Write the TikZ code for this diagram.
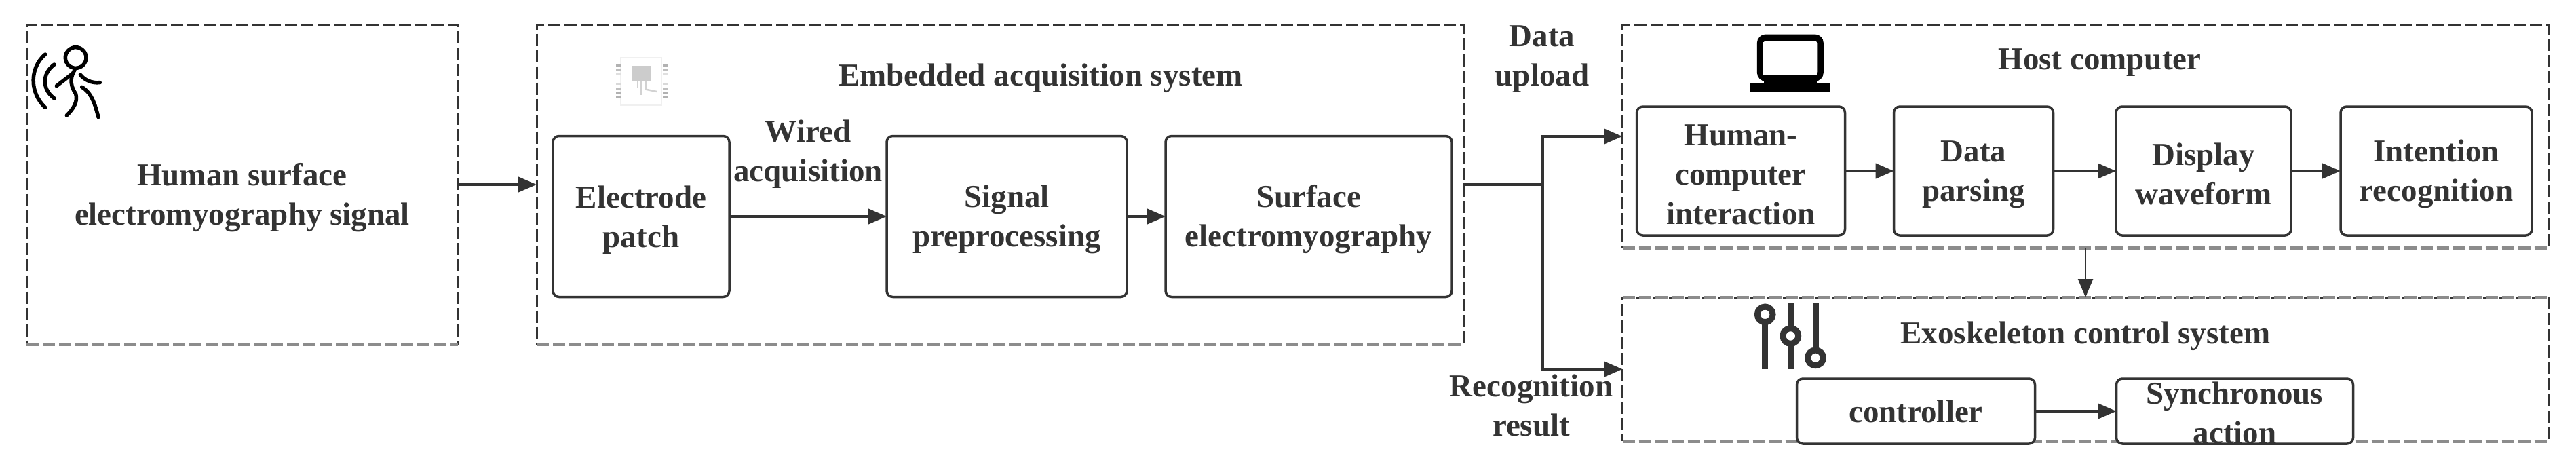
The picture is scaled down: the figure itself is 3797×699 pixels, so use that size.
\documentclass[tikz,border=0pt]{standalone}
\usepackage{fontspec}
\setmainfont{Liberation Serif}
\usetikzlibrary{arrows.meta}
\definecolor{inkgray}{HTML}{333333}
\newcommand{\lowerline}{\rule{0pt}{42pt}}
\tikzset{
    txt/.style={font=\fontsize{47}{58}\selectfont\bfseries,text=inkgray,align=center,inner sep=0pt},
    groupbox/.style={draw=inkgray,line width=3pt,dash pattern=on 18pt off 6pt,outer sep=0pt,inner sep=0pt},
    groupedge/.style={draw=gray!90,line width=5pt,dash pattern=on 18pt off 6pt},
    stepbox/.style={txt,draw=inkgray,line width=3.5pt,rounded corners=9pt,outer sep=0pt},
    link/.style={draw=inkgray,line width=4pt,-{Triangle[length=27pt,width=22pt]}},
    icon/.style={line width=5.5pt,line cap=round,black}
}

\begin{document}
\begin{tikzpicture}[x=1pt,y=-1pt]
        \useasboundingbox (0,0) rectangle (3797,699);
        \fill[white] (0,0) rectangle (3797,699);

        \node[groupbox,minimum width=636pt,minimum height=471pt] (humanbox) at (357,272) {};
        \node[txt] (humanlabel) at (357,291) {Human surface\\electromyography signal};

        \node[groupbox,minimum width=1366pt,minimum height=471pt] (acqbox) at (1474,272) {};
        \node[txt] (acqlabel) at (1534,115) {Embedded acquisition system};

        \node[groupbox,minimum width=1365pt,minimum height=329pt] (hostbox) at (3074,201) {};
        \node[txt] (hostlabel) at (3095,92) {Host computer};

        \node[groupbox,minimum width=1365pt,minimum height=212pt] (exobox) at (3074,544) {};
        \node[txt] (exolabel) at (3074,495) {Exoskeleton control system};

        \foreach \groupname in {humanbox,acqbox,hostbox,exobox} {
            \draw[groupedge] (\groupname.south west) -- (\groupname.south east);
        }
        \draw[groupedge] (exobox.north west) -- (exobox.north east);

        \node[stepbox,minimum width=260pt,minimum height=237pt] (electrode) at (945,319) {\lowerline Electrode\\patch};
        \node[stepbox,minimum width=354pt,minimum height=237pt] (preproc) at (1484,319) {\lowerline Signal\\preprocessing};
        \node[stepbox,minimum width=422pt,minimum height=237pt] (surface) at (1929,319) {\lowerline Surface\\electromyography};
        \node[txt] (wired) at (1191,227) {Wired\\acquisition};

        \node[stepbox,minimum width=307pt,minimum height=190pt] (hci) at (2566,252) {\lowerline Human-\\computer\\interaction};
        \node[stepbox,minimum width=235pt,minimum height=190pt] (parsing) at (2909,252) {\lowerline Data\\parsing};
        \node[stepbox,minimum width=258pt,minimum height=190pt] (waveform) at (3248,252) {\lowerline Display\\waveform};
        \node[stepbox,minimum width=282pt,minimum height=190pt] (intention) at (3591,252) {\lowerline Intention\\recognition};

        \node[stepbox,fill=white,minimum width=351pt,minimum height=96pt] (controller) at (2824,606) {controller};
        \node[stepbox,fill=white,minimum width=349pt,minimum height=96pt] (syncbox) at (3294,606) {};
        \node[txt] (synclabel) at (3294,608) {Synchronous\\action};

        \node[txt] (upload) at (2273,87) {Data\\upload};
        \node[txt] (result) at (2257,597) {Recognition\\result};

        \coordinate (joint) at (2274,272);

        \draw[link] (humanbox.east) -- (acqbox.west);
        \draw[link] (electrode) -- (preproc);
        \draw[link] (preproc) -- (surface);
        \draw[draw=inkgray,line width=4pt] (acqbox.east) -- (joint);
        \draw[link] (joint) |- (hostbox.west);
        \draw[link] (joint) |- (exobox.west);

        \draw[link] (hci) -- (parsing);
        \draw[link] (parsing) -- (waveform);
        \draw[link] (waveform) -- (intention);
        \draw[link,line width=2.5pt] (hostbox.south) -- (exobox.north);
        \draw[link] (controller) -- (syncbox);

        % walking person
        \begin{scope}[shift={(30,50)},scale=1/3]
            \draw[icon] (245,105) circle (46);
            \draw[icon] (240,160) .. controls (215,200) and (225,235) .. (245,265) .. controls (255,300) and (235,330) .. (205,360);
            \draw[icon] (160,230) -- (235,172);
            \draw[icon] (265,180) .. controls (285,205) and (315,218) .. (352,215);
            \draw[icon] (272,235) .. controls (315,260) and (330,310) .. (345,368);
            \draw[icon] (110,90) .. controls (40,150) and (40,260) .. (110,325);
            \draw[icon] (150,135) .. controls (95,175) and (95,245) .. (150,285);
        \end{scope}

        % chip
        \begin{scope}[shift={(880,70)},scale=1/3]
            \draw[gray!12,line width=2pt] (105,45) rectangle (285,255);
            \fill[gray!40] (155,80) rectangle (238,150);
            \foreach \ypin/\shade in {80/60,100/50,118/25,162/30,182/50,200/60,218/60} {
                \fill[gray!\shade] (85,\ypin-4) rectangle (108,\ypin+4);
                \fill[gray!\shade] (290,\ypin-4) rectangle (312,\ypin+4);
            }
            \draw[gray!35,line width=2.5pt] (180,150) -- (180,180);
            \draw[gray!35,line width=2.5pt] (196,150) -- (196,210);
            \draw[gray!35,line width=2.5pt] (215,150) -- (215,185) -- (265,195);
        \end{scope}

        % laptop
        \begin{scope}[shift={(2540,30)},scale=1/3]
            \draw[black,line width=9.5pt,rounded corners=8pt] (164,76) rectangle (429,255);
            \fill[white] (178,97) rectangle (415,240);
            \fill[black] (180,240) rectangle (415,300);
            \fill[black] (118,280) rectangle (475,315);
        \end{scope}

        % sliders
        \begin{scope}[shift={(2560,430)},scale=1/3]
            \draw[inkgray,line width=9pt] (125,134) -- (125,342);
            \draw[inkgray,line width=9pt] (238,52) -- (238,161);
            \draw[inkgray,line width=9pt] (238,229) -- (238,342);
            \draw[inkgray,line width=9pt] (348,52) -- (348,258);
            \draw[inkgray,line width=9pt] (125,100) circle (34);
            \draw[inkgray,line width=9pt] (238,195) circle (34);
            \draw[inkgray,line width=9pt] (348,292) circle (34);
        \end{scope}
    \end{tikzpicture}
\end{document}
